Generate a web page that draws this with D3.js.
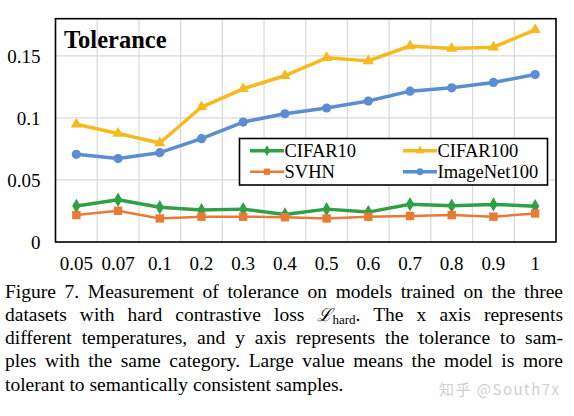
<!DOCTYPE html>
<html lang="en"><head><meta charset="utf-8">
<script src="https://cdn.jsdelivr.net/npm/d3@7/dist/d3.min.js"></script>
</head><body>
<svg id="c" width="574" height="416"></svg>
<script>
const temps = ["0.05","0.07","0.1","0.2","0.3","0.4","0.5","0.6","0.7","0.8","0.9","1"];
const yTicks = [0, 0.05, 0.1, 0.15];
const yTickLabels = ["0","0.05","0.1","0.15"];
const cifar10 = [0.029,0.034,0.028,0.0257,0.0265,0.0222,0.0265,0.0241,0.0305,0.0292,0.0303,0.0289];
const svhn = [0.0217,0.0252,0.019,0.0204,0.0204,0.020,0.019,0.0204,0.021,0.0217,0.0204,0.023];
const cifar100 = [0.0949,0.0874,0.0798,0.1088,0.1235,0.134,0.1485,0.146,0.158,0.156,0.157,0.171];
const imagenet100 = [0.0707,0.0673,0.072,0.0833,0.0967,0.1034,0.108,0.1136,0.1216,0.1243,0.1286,0.135];
const seriesNames = ["CIFAR10","CIFAR100","SVHN","ImageNet100"];
const captionLines = [
  ["Figure 7. Measurement of tolerance on models trained on the three"],
  ["datasets with hard contrastive loss ", "L", "hard", ". The x axis represents"],
  ["different temperatures, and y axis represents the tolerance to sam-"],
  ["ples with the same category. Large value means the model is more"],
  ["tolerant to semantically consistent samples."]
];
const watermark = "知乎 @South7x";

const series = [
  {name:"CIFAR10", values:cifar10, color:"#2fa045", marker:"diamond", w:3.5},
  {name:"SVHN", values:svhn, color:"#e97a35", marker:"square", w:2.5},
  {name:"CIFAR100", values:cifar100, color:"#f7b91c", marker:"triangle", w:3.5},
  {name:"ImageNet100", values:imagenet100, color:"#5a8dd3", marker:"circle", w:3.5}
];

document.body.style.margin = "0";
document.body.style.background = "#fff";
const svg = d3.select("#c").style("display", "block");
const SERIF = "'Liberation Serif', Tinos, 'Times New Roman', serif";
function ff(sel, fam) {
  sel.each(function(){ this.style.setProperty("font-family", fam || SERIF, "important"); });
  return sel;
}
const L = 55.5, R = 556, T = 18.7, B = 242;
const x = d3.scaleBand().domain(temps).range([L, R]);
const y = d3.scaleLinear().domain([0, 0.18]).range([B, T]);

// gridlines
const g = svg.append("g");
g.selectAll(".hg").data(yTicks.slice(1)).join("line")
  .attr("x1", L).attr("x2", R).attr("y1", d=>y(d)).attr("y2", d=>y(d))
  .attr("stroke", "#d9d9d9").attr("stroke-width", 1.2);
g.selectAll(".vg").data(temps.slice(1)).join("line")
  .attr("x1", d=>x(d)).attr("x2", d=>x(d)).attr("y1", T).attr("y2", B)
  .attr("stroke", "#d9d9d9").attr("stroke-width", 1.2);

// axes
const yAxis = d3.axisLeft(y).tickValues(yTicks).tickFormat((d,i)=>yTickLabels[i]).tickSize(0).tickPadding(15);
const ya = svg.append("g").attr("transform", `translate(${L},0)`).call(yAxis);
ya.attr("font-family", null).attr("font-size", null);
ya.select(".domain").remove();
ff(ya.selectAll("text").style("font-size", "19px").attr("fill", "#000").attr("dy", "0.35em"));
const xAxis = d3.axisBottom(x).tickSize(0).tickPadding(14);
const xa = svg.append("g").attr("transform", `translate(0,${B})`).call(xAxis);
xa.attr("font-family", null).attr("font-size", null);
xa.select(".domain").remove();
ff(xa.selectAll("text").style("font-size", "19px").attr("fill", "#000").attr("dy", "0.75em"));

// border
svg.append("rect").attr("x", L).attr("y", T).attr("width", R-L).attr("height", B-T)
  .attr("fill", "none").attr("stroke", "#000").attr("stroke-width", 1.6);

// markers
function marker(sel, type, color, s) {
  if (type === "circle") sel.append("circle").attr("r", 4.6*s).attr("fill", color);
  else if (type === "square") sel.append("rect").attr("x", -4.2*s).attr("y", -4.2*s).attr("width", 8.4*s).attr("height", 8.4*s).attr("fill", color);
  else if (type === "diamond") sel.append("path").attr("d", d3.symbol(d3.symbolDiamond, 60*s*s)()).attr("fill", color);
  else sel.append("path").attr("d", d3.symbol(d3.symbolTriangle, 55*s*s)()).attr("fill", color);
}

const cx = d => x(d) + x.bandwidth()/2;
const line = d3.line().x((v,i)=>cx(temps[i])).y(v=>y(v));
series.forEach(s => {
  svg.append("path").datum(s.values).attr("d", line).attr("fill", "none")
    .attr("stroke", s.color).attr("stroke-width", s.w).attr("stroke-linejoin", "round");
  s.values.forEach((v,i) => {
    const m = svg.append("g").attr("transform", `translate(${cx(temps[i])},${y(v)})`);
    marker(m, s.marker, s.color, 1);
  });
});

// title
ff(svg.append("text").attr("x", 64).attr("y", 47.5)
  .style("font-weight", "bold").style("font-size", "24.5px").text("Tolerance"));

// legend
svg.append("rect").attr("x", 239.5).attr("y", 138.5).attr("width", 308).attr("height", 46.5)
  .attr("fill", "#fff").attr("stroke", "#000").attr("stroke-width", 1.6);
const legendPos = {
  "CIFAR10": [250, 150.7], "CIFAR100": [403, 150.7],
  "SVHN": [250, 171.7], "ImageNet100": [403, 171.7]
};
seriesNames.forEach(n => {
  const s = series.find(d=>d.name===n);
  const [lx, ly] = legendPos[n];
  svg.append("line").attr("x1", lx).attr("x2", lx+34).attr("y1", ly).attr("y2", ly)
    .attr("stroke", s.color).attr("stroke-width", s.w);
  const m = svg.append("g").attr("transform", `translate(${lx+17},${ly})`);
  marker(m, s.marker, s.color, 0.75);
  ff(svg.append("text").attr("x", lx+34.5).attr("y", ly+6.5)
    .style("font-size", "18.5px").text(n));
});

// caption
const capL = 5, capR = 563;
captionLines.forEach((parts, i) => {
  const t = svg.append("text").attr("x", capL).attr("y", 297.5 + i*23.3)
    .style("font-size", "19.5px").attr("fill", "#000");
  ff(t);
  if (parts.length === 1) ff(t.append("tspan").text(parts[0]));
  else {
    ff(t.append("tspan").text(parts[0]));
    ff(t.append("tspan").style("font-style", "italic").style("font-size", "18px").text("ℒ"));
    ff(t.append("tspan").style("font-size", "13px").attr("dy", 3).text(parts[2]));
    ff(t.append("tspan").attr("dy", -3).text(parts[3]));
  }
  if (i < captionLines.length - 1) {
    const w = t.node().getComputedTextLength();
    const spaces = parts.join("").split(" ").length - 1;
    t.style("word-spacing", ((capR - capL - w) / spaces) + "px");
  }
});
ff(svg.append("text").attr("x", 439).attr("y", 395)
  .style("font-size", "15px").attr("fill", "#d0d0d0").attr("textLength", 120).text(watermark),
  "'Noto Sans CJK SC', sans-serif");
</script>
</body></html>
